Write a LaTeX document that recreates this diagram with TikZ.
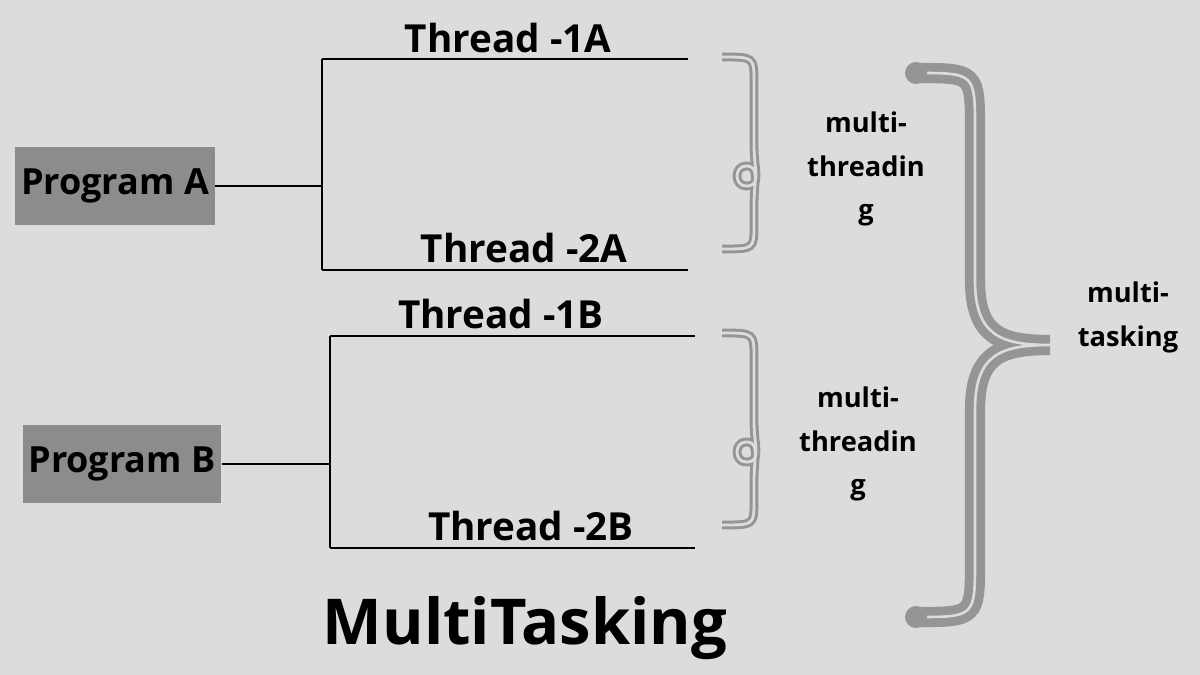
\documentclass[tikz,border=0pt]{standalone}
\usepackage{fontspec}
\setmainfont{Open Sans}
\usetikzlibrary{positioning}
\definecolor{bgc}{HTML}{DCDCDC}
\definecolor{boxc}{HTML}{8C8C8C}
\definecolor{bracec}{HTML}{959595}
\tikzset{
  progbox/.style={fill=boxc,minimum width=196*0.02cm,minimum height=78*0.02cm,font=\fontsize{20.5}{24}\selectfont\bfseries},
  thlabel/.style={font=\fontsize{22}{26}\selectfont\bfseries},
  mlabel/.style={font=\fontsize{15.5}{25}\selectfont\bfseries,align=center},
  wire/.style={line width=1.2pt},
  bracel/.style={draw=bracec,double=bgc,line width=1.7pt,double distance=1.6pt},
  bigbrace/.style={draw=bracec,double=bgc,line width=5pt,double distance=1.5pt}
}
\begin{document}
\begin{tikzpicture}[x=0.02cm,y=-0.02cm]
\fill[bgc] (0,0) rectangle (1200,675);
\useasboundingbox (0,0) rectangle (1200,675);

% program A
\node[progbox] (pa) at (115,186) {Program A};
\coordinate (ja) at (322,186);
\coordinate (a1) at (322,59);
\coordinate (a1e) at (688,59);
\coordinate (a2) at (322,270);
\coordinate (a2e) at (688,270);
\draw[wire] (pa.east) -- (ja);
\draw[wire] (a1) -- (a2);
\draw[wire] (a1) -- (a1e);
\draw[wire] (a2) -- (a2e);
\node[thlabel] (t1a) at (508,38) {Thread -1A};
\node[thlabel] (t2a) at (524,248) {Thread -2A};

% program B
\node[progbox] (pb) at (122,464) {Program B};
\coordinate (jb) at (330,464);
\coordinate (b1) at (330,336);
\coordinate (b1e) at (695,336);
\coordinate (b2) at (330,548);
\coordinate (b2e) at (695,548);
\draw[wire] (pb.east) -- (jb);
\draw[wire] (b1) -- (b2);
\draw[wire] (b1) -- (b1e);
\draw[wire] (b2) -- (b2e);
\node[thlabel] (t1b) at (501,314) {Thread -1B};
\node[thlabel] (t2b) at (531,526) {Thread -2B};

% braces
\foreach \dy in {0,276} {
  \draw[bracel] (722,57+\dy) .. controls (754,57+\dy) .. (754,82+\dy) -- (754,145+\dy)
    .. controls (754,172+\dy) and (762,186+\dy) .. (746,186+\dy)
    .. controls (734,186+\dy) and (734,166+\dy) .. (746,166+\dy)
    .. controls (760,166+\dy) and (754,180+\dy) .. (754,205+\dy) -- (754,225+\dy)
    .. controls (754,249+\dy) .. (722,249+\dy);
}
\node[mlabel] (mt1) at (866,169) {multi-\\threadin\\g};
\node[mlabel] (mt2) at (858,444) {multi-\\threadin\\g};

\draw[bigbrace] (916,73) .. controls (975,73) .. (975,130) -- (975,280)
  .. controls (975,335) and (1000,345) .. (1050,345)
  .. controls (1000,345) and (975,355) .. (975,410) -- (975,560)
  .. controls (975,617) .. (916,617);
\fill[bracec] (916,73) circle (11);
\fill[bracec] (916,617) circle (11);
\node[mlabel] (mtask) at (1128,317) {multi-\\tasking};

\node[font=\fontsize{36}{42}\selectfont\bfseries] (title) at (525,628) {MultiTasking};
\end{tikzpicture}
\end{document}
